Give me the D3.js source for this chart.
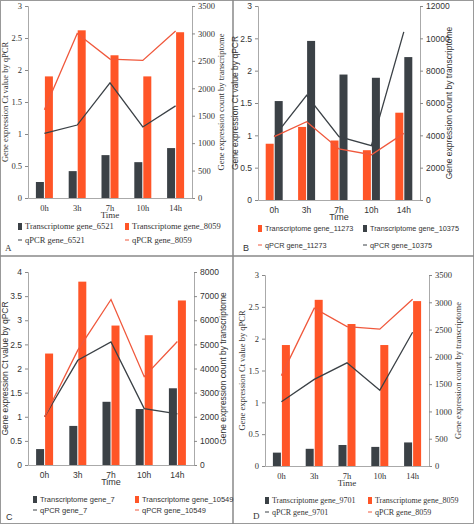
<!DOCTYPE html><html><head><meta charset="utf-8"><script src="https://cdn.jsdelivr.net/npm/d3@7"></script>
<style>body{margin:0;background:#fff}</style></head><body><svg id="c" width="474" height="524"></svg><script>
const categories=["0h","3h","7h","10h","14h"];
// values in left-axis (Ct) units
const aBarDark=[0.25,0.42,0.67,0.56,0.78], aBarOrange=[1.9,2.62,2.23,1.9,2.59];
const aLineDark=[1.01,1.14,1.80,1.11,1.44], aLineOrange=[1.38,2.57,2.17,2.15,2.61];
const bBarOrange=[0.87,1.13,0.92,0.77,1.35], bBarDark=[1.53,2.46,1.94,1.89,2.21];
const bLineDark=[0.98,1.62,0.98,0.84,2.6], bLineOrange=[0.98,1.21,0.79,0.70,1.03];
const cBarDark=[0.33,0.81,1.31,1.16,1.59], cBarOrange=[2.31,3.8,2.89,2.69,3.41];
const cLineDark=[1.0,2.17,2.55,1.17,1.06], cLineOrange=[1.0,2.38,3.43,1.83,2.56];
const dBarDark=[0.21,0.27,0.33,0.30,0.37], dBarOrange=[1.9,2.61,2.23,1.9,2.59];
const dLineDark=[1.01,1.36,1.62,1.19,2.10], dLineOrange=[1.42,2.48,2.19,2.15,2.62];
const leftTicks3=[0,0.5,1,1.5,2,2.5,3], leftTicks4=[0,0.5,1,1.5,2,2.5,3,3.5,4];
const rightTicksA=[0,500,1000,1500,2000,2500,3000,3500];
const rightTicksB=[0,2000,4000,6000,8000,10000,12000];
const rightTicksC=[0,1000,2000,3000,4000,5000,6000,7000,8000];
const DARK="#3b4146",OR="#ff5527",ORL="#f0583c";
const svg=d3.select("#c");
svg.append("rect").attr("x",0.5).attr("y",0.5).attr("width",473).attr("height",523).attr("fill","none").attr("stroke","#999");
svg.append("line").attr("x1",233).attr("x2",233).attr("y1",0).attr("y2",524).attr("stroke","#888").attr("stroke-width",1.5);
svg.append("line").attr("x1",0).attr("x2",474).attr("y1",256).attr("y2",256).attr("stroke","#888").attr("stroke-width",1.5);
function panel(o){
 const g=svg.append("g").attr("font-family",o.font).attr("fill","#333");
 const x=d3.scaleBand().domain(categories).range([o.l,o.r]);
 const yl=d3.scaleLinear().domain([0,o.lmax]).range([o.b,o.t]);
 const yr=d3.scaleLinear().domain([0,o.rmax]).range([o.b,o.t]);
 g.append("g").attr("transform",`translate(${o.l},0)`).call(d3.axisLeft(yl).tickValues(o.lt).tickSize(3).tickFormat(d=>d));
 g.append("g").attr("transform",`translate(${o.r},0)`).call(d3.axisRight(yr).tickValues(o.rt).tickSize(3).tickFormat(d=>d));
 g.append("g").attr("transform",`translate(0,${o.b})`).call(d3.axisBottom(x).tickSize(0).tickPadding(7));
 g.selectAll(".domain").attr("stroke","#aaa");
 g.selectAll(".tick line").attr("stroke","#888");
 g.selectAll(".tick text").attr("font-family",o.font).attr("font-size",8.5).attr("fill","#333");
 const bw=8;
 o.bars.forEach((s,si)=>{
  g.selectAll(null).data(s.v).enter().append("rect")
   .attr("x",(d,i)=>x(categories[i])+x.bandwidth()/2+(si===0?-bw-0.5:0.5)).attr("width",bw)
   .attr("y",d=>yl(d)).attr("height",d=>o.b-yl(d)).attr("fill",s.c);
 });
 o.lines.forEach(s=>{
  g.append("path").datum(s.v).attr("fill","none").attr("stroke",s.c).attr("stroke-width",1.3)
   .attr("d",d3.line().x((d,i)=>x(categories[i])+x.bandwidth()/2).y(d=>yl(d)));
 });
 g.append("text").attr("x",(o.l+o.r)/2).attr("y",o.b+20).attr("text-anchor","middle").attr("font-size",9).text("Time");
 g.append("text").attr("transform",`translate(${o.l-20},${(o.t+o.b)/2}) rotate(-90)`).attr("text-anchor","middle").attr("font-size",8.5).text("Gene expression Ct value by qPCR");
 g.append("text").attr("transform",`translate(${o.r+32},${(o.t+o.b)/2}) rotate(-90)`).attr("text-anchor","middle").attr("font-size",8.5).text("Gene expression count by transcriptome");
 o.legend.forEach((it,k)=>{
  const lx=o.lx+(k%2)*o.lc, ly=o.ly+Math.floor(k/2)*o.rg;
  if(it.bar) g.append("rect").attr("x",lx).attr("y",ly-6).attr("width",4).attr("height",7).attr("fill",it.c);
  else g.append("line").attr("x1",lx).attr("x2",lx+4).attr("y1",ly-3).attr("y2",ly-3).attr("stroke",it.c);
  g.append("text").attr("x",lx+7).attr("y",ly).attr("font-size",o.lf).text(it.t);
 });
 g.append("text").attr("x",o.tx).attr("y",o.ty).attr("font-size",9).text(o.tag);
}
const serif="Liberation Serif, serif", sans="Liberation Sans, Arial, sans-serif";
panel({font:serif,l:28,r:192,t:6,b:198,lmax:3,rmax:3500,lt:leftTicks3,rt:rightTicksA,
 bars:[{v:aBarDark,c:DARK},{v:aBarOrange,c:OR}],lines:[{v:aLineDark,c:DARK},{v:aLineOrange,c:ORL}],
 legend:[{bar:1,c:DARK,t:"Transcriptome gene_6521"},{bar:1,c:OR,t:"Transcriptome gene_8059"},{c:DARK,t:"qPCR gene_6521"},{c:ORL,t:"qPCR gene_8059"}],
 lx:18,ly:229,lc:107,rg:14,lf:8.5,tag:"A",tx:5,ty:251});
panel({font:sans,l:258,r:420,t:6,b:200,lmax:3,rmax:12000,lt:leftTicks3,rt:rightTicksB,
 bars:[{v:bBarOrange,c:OR},{v:bBarDark,c:DARK}],lines:[{v:bLineDark,c:DARK},{v:bLineOrange,c:ORL}],
 legend:[{bar:1,c:OR,t:"Transcriptome gene_11273"},{bar:1,c:DARK,t:"Transcriptome gene_10375"},{c:ORL,t:"qPCR gene_11273"},{c:DARK,t:"qPCR gene_10375"}],
 lx:258,ly:231,lc:105,rg:17,lf:7.3,tag:"B",tx:243,ty:251});
panel({font:sans,l:28,r:194,t:272,b:465,lmax:4,rmax:8000,lt:leftTicks4,rt:rightTicksC,
 bars:[{v:cBarDark,c:DARK},{v:cBarOrange,c:OR}],lines:[{v:cLineDark,c:DARK},{v:cLineOrange,c:ORL}],
 legend:[{bar:1,c:DARK,t:"Transcriptome gene_7"},{bar:1,c:OR,t:"Transcriptome gene_10549"},{c:DARK,t:"qPCR gene_7"},{c:ORL,t:"qPCR gene_10549"}],
 lx:33,ly:502,lc:102,rg:11,lf:7.5,tag:"C",tx:6,ty:520});
panel({font:serif,l:265,r:429,t:275,b:466,lmax:3,rmax:3500,lt:leftTicks3,rt:rightTicksA,
 bars:[{v:dBarDark,c:DARK},{v:dBarOrange,c:OR}],lines:[{v:dLineDark,c:DARK},{v:dLineOrange,c:ORL}],
 legend:[{bar:1,c:DARK,t:"Transcriptome gene_9701"},{bar:1,c:OR,t:"Transcriptome gene_8059"},{c:DARK,t:"qPCR gene_9701"},{c:ORL,t:"qPCR gene_8059"}],
 lx:265,ly:503,lc:103,rg:12,lf:8,tag:"D",tx:253,ty:519});
</script></body></html>
